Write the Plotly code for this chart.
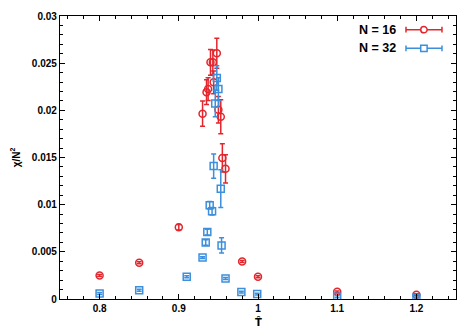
import plotly.graph_objects as go

# Susceptibility per site squared vs. reduced temperature, two lattice sizes
T16 = [0.80, 0.85, 0.90, 0.930, 0.935, 0.937, 0.940, 0.943, 0.944, 0.948, 0.950,
       0.953, 0.955, 0.959, 0.980, 1.00, 1.10, 1.20]
chi16 = [0.00249, 0.00384, 0.00761, 0.01965, 0.02193, 0.02225, 0.02509, 0.02510,
         0.02297, 0.02605, 0.02007, 0.01931, 0.01495, 0.01380, 0.00398, 0.00236,
         0.00076, 0.00045]
err16 = [0.0001, 0.0001, 0.0003, 0.00135, 0.0013, 0.0012, 0.00137, 0.0013, 0.0012,
         0.0016, 0.0014, 0.0018, 0.0015, 0.0015, 0.0001, 0.0001, 0.0001, 0.0001]

T32 = [0.80, 0.85, 0.91, 0.930, 0.934, 0.936, 0.939, 0.942, 0.944, 0.946, 0.948,
       0.950, 0.953, 0.954, 0.959, 0.979, 0.999, 1.10, 1.20]
chi32 = [0.00059, 0.00093, 0.00236, 0.00439, 0.00599, 0.00709, 0.00993, 0.00931,
         0.01409, 0.02073, 0.02343, 0.02225, 0.01170, 0.00568, 0.00218, 0.00073,
         0.00052, 0.00024, 0.00010]
err32 = [0.0001, 0.0001, 0.0001, 0.0001, 0.0003, 0.0003, 0.0004, 0.0004, 0.00128,
         0.0014, 0.0013, 0.0012, 0.0020, 0.0008, 0.0001, 0.0001, 0.0001, 0.0001,
         0.0001]

RED = "#e3262d"
BLUE = "#3b8fdc"
FONT = "Liberation Sans, Arial, sans-serif"

fig = go.Figure()
fig.add_trace(go.Scatter(
    x=T16, y=chi16, mode="markers", name="N = 16",
    marker=dict(symbol="circle-open", size=7, color=RED, line=dict(width=1.5)),
    error_y=dict(type="data", array=err16, color=RED, thickness=1.5, width=2.5),
))
fig.add_trace(go.Scatter(
    x=T32, y=chi32, mode="markers", name="N = 32",
    marker=dict(symbol="square-open", size=7, color=BLUE, line=dict(width=1.5)),
    error_y=dict(type="data", array=err32, color=BLUE, thickness=1.5, width=2.5),
))

axis_common = dict(
    showline=True, linecolor="black", linewidth=1.2, mirror="allticks",
    ticks="inside", ticklen=5, tickwidth=1, tickcolor="black",
    showgrid=False, zeroline=False,
    tickfont=dict(family=FONT, size=10, color="black", weight="bold"),
)

fig.update_xaxes(
    range=[0.75, 1.25], tickvals=[0.8, 0.9, 1.0, 1.1, 1.2],
    ticktext=["0.8", "0.9", "1", "1.1", "1.2"],
    minor=dict(dtick=0.02, tick0=0.8, ticks="inside", ticklen=3, tickcolor="black"),
    **axis_common,
)
fig.update_yaxes(
    range=[0, 0.03], tickvals=[0, 0.005, 0.01, 0.015, 0.02, 0.025, 0.03],
    ticktext=["0", "0.005", "0.01", "0.015", "0.02", "0.025", "0.03"],
    minor=dict(dtick=0.001, tick0=0, ticks="inside", ticklen=3, tickcolor="black"),
    **axis_common,
)

annotations = [
    dict(text="χ/N<sup>2</sup>", xref="paper", yref="paper", x=-0.114, y=0.5,
         textangle=-90, showarrow=False, xanchor="center", yanchor="middle",
         font=dict(family=FONT, size=10, color="black", weight="bold")),
    # x-axis title: T with a combining circumflex (font with mark anchoring)
    dict(text="T\u0302", xref="paper", yref="paper", x=0.5, y=-0.083,
         showarrow=False, xanchor="center", yanchor="middle",
         font=dict(family="DejaVu Sans", size=10, color="black", weight="bold")),
]

# Key in the upper-right corner: label on the left, sample on the right
shapes = []
key_rows = [("N = 16", RED, "circle", 0.9516), ("N = 32", BLUE, "rect", 0.8858)]
x0, x1, xm = 0.8737, 0.9646, 0.919
cap = 0.010
for label, col, sym, yk in key_rows:
    annotations.append(dict(
        text=label, xref="paper", yref="paper", x=0.8535, y=yk,
        xanchor="right", yanchor="middle", showarrow=False,
        font=dict(family=FONT, size=12.5, color="black", weight="bold")))
    shapes.append(dict(type="line", xref="paper", yref="paper", x0=x0, x1=x1,
                       y0=yk, y1=yk, line=dict(color=col, width=1.5)))
    for xc in (x0, x1):
        shapes.append(dict(type="line", xref="paper", yref="paper", x0=xc, x1=xc,
                           y0=yk - cap, y1=yk + cap, line=dict(color=col, width=1.5)))
    hw, hh = 3.2 / 396, 3.2 / 289
    shapes.append(dict(type=sym, xref="paper", yref="paper",
                       x0=xm - hw, x1=xm + hw, y0=yk - hh, y1=yk + hh,
                       line=dict(color=col, width=1.5), fillcolor="white"))

fig.update_layout(
    width=474, height=331,
    margin=dict(l=60, r=18, t=10, b=32),
    paper_bgcolor="white", plot_bgcolor="white",
    showlegend=False,
    annotations=annotations, shapes=shapes,
)

fig.write_html("out.html")
